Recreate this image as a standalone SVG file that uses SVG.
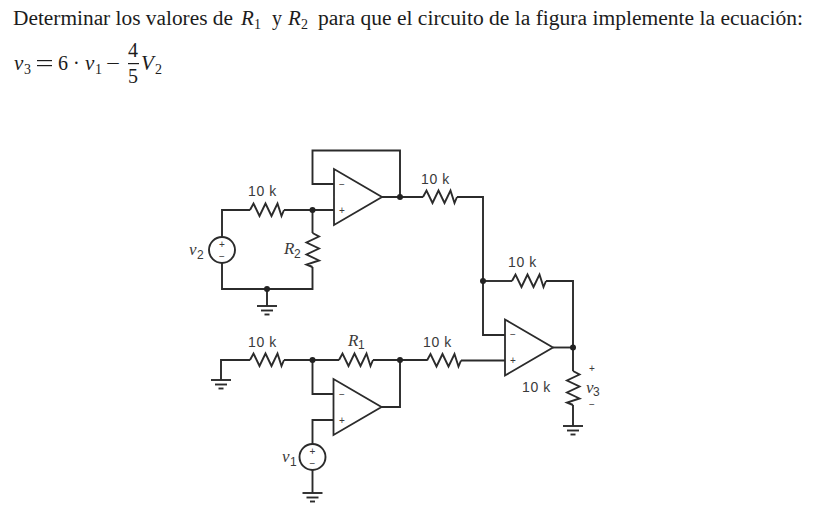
<svg xmlns="http://www.w3.org/2000/svg" xmlns:xlink="http://www.w3.org/1999/xlink" width="819" height="519" viewBox="0 0 819 519">
<style>
.w{fill:none;stroke:#2b2b2b;stroke-width:1.9;stroke-linejoin:miter}
.oa{fill:#fff;stroke:#2b2b2b;stroke-width:1.8}
.dot{fill:#222}
.t{font-family:"Liberation Serif",serif;font-size:20px;fill:#1c1c1c}
.m{font-family:"Liberation Serif",serif;font-size:21px;fill:#1c1c1c;font-style:italic}
.s{font-family:"Liberation Serif",serif;font-size:14px;fill:#1c1c1c}
.l{font-family:"Liberation Sans",sans-serif;font-size:14px;fill:#3a3a3a;letter-spacing:.6px}
.v{font-family:"Liberation Serif",serif;font-size:17px;font-style:italic;fill:#3a3a3a}
.vs{font-family:"Liberation Sans",sans-serif;font-size:12px;fill:#3a3a3a}
.p{font-family:"Liberation Sans",sans-serif;font-size:10px;fill:#3a3a3a;text-anchor:middle}
</style>
<defs>
<path id="res" class="w" d="M0 0L3.5-6.5 9.5 6 15.5-6.5 21.5 6 27.500-6.5 31.5 6 34 0"/>
<g id="gnd"><path class="w" d="M-10 0H10"/><path class="w" d="M-6 4.500H6" stroke-width="1.4"/><path class="w" d="M-2.500 8.500H2.500"/></g>
<path id="oamp" class="oa" d="M0 0V56L48 28Z"/>
</defs>
<rect width="819" height="519" fill="#fff"/>

<g id="statement">
<text class="t" x="13" y="25" textLength="220" lengthAdjust="spacingAndGlyphs">Determinar los valores de</text>
<text class="m" x="241" y="25">R</text><text class="s" x="254" y="29">1</text>
<text class="t" x="272" y="25">y</text>
<text class="m" x="288" y="25">R</text><text class="s" x="301" y="29">2</text>
<text class="t" x="318" y="25" textLength="485" lengthAdjust="spacingAndGlyphs">para que el circuito de la figura implemente la ecuación:</text>
</g>
<g id="equation">
<text class="m" x="14" y="70">v</text><text class="s" x="24" y="74">3</text>
<rect x="37" y="60" width="15" height="1.200" fill="#1c1c1c"/><rect x="37" y="65" width="15" height="1.200" fill="#1c1c1c"/>
<text class="t" x="58" y="70">6</text>
<text class="t" x="73" y="70">·</text>
<text class="m" x="85" y="70">v</text><text class="s" x="95" y="74">1</text>
<text class="t" x="106" y="70" textLength="14" lengthAdjust="spacingAndGlyphs">−</text>
<text class="t" x="128" y="57">4</text>
<rect x="128" y="63" width="11" height="1.200" fill="#1c1c1c"/>
<text class="t" x="128" y="83">5</text>
<text class="m" x="141" y="70">V</text><text class="s" x="155" y="74">2</text>
</g>

<g id="connectors">
<path class="w" d="M334 184H312.500V150.500H400V197"/>
<path class="w" d="M382 197H423"/>
<path class="w" d="M457 197H483V335H505"/>
<path class="w" d="M334 210H284"/>
<path class="w" d="M250 210H222V237"/>
<path class="w" d="M222 263V289H312.500V267"/>
<path class="w" d="M312.500 233V210"/>
<path class="w" d="M267 289V306"/>
<path class="w" d="M483 281H512"/>
<path class="w" d="M546 281H573V371"/>
<path class="w" d="M553 347.500H573"/>
<path class="w" d="M573 405V426"/>
<path class="w" d="M221 380V360H250"/>
<path class="w" d="M284 360H339"/>
<path class="w" d="M373 360H427"/>
<path class="w" d="M461 360.500H505"/>
<path class="w" d="M312.500 360V394H334"/>
<path class="w" d="M400 360V407H381"/>
<path class="w" d="M334 420H312.500V444"/>
<path class="w" d="M312.500 470V493"/>
</g>

<g id="opamp-top"><use xlink:href="#oamp" x="334" y="169"/><text class="p" x="342" y="188">−</text><text class="p" x="342" y="214">+</text></g>
<g id="opamp-right"><use xlink:href="#oamp" x="505" y="319.500"/><text class="p" x="513" y="338">−</text><text class="p" x="513" y="364">+</text></g>
<g id="opamp-bottom"><use xlink:href="#oamp" x="333.500" y="379"/><text class="p" x="342" y="398">−</text><text class="p" x="342" y="424">+</text></g>

<g id="r-top-in"><use xlink:href="#res" x="250" y="210"/><text class="l" x="248" y="196">10 k</text></g>
<g id="r-top-out"><use xlink:href="#res" x="423" y="197"/><text class="l" x="421" y="184">10 k</text></g>
<g id="r-feedback"><use xlink:href="#res" x="512" y="281"/><text class="l" x="508" y="267">10 k</text></g>
<g id="r-bottom-in"><use xlink:href="#res" x="250" y="360"/><text class="l" x="248" y="347">10 k</text></g>
<g id="r1"><use xlink:href="#res" x="339" y="360"/><text class="v" x="348" y="346">R</text><text class="vs" x="358" y="349">1</text></g>
<g id="r-right-in"><use xlink:href="#res" x="427" y="360.500"/><text class="l" x="423" y="347">10 k</text></g>
<g id="r2"><use xlink:href="#res" transform="translate(312.500 233) rotate(90)"/><text class="v" x="284" y="254">R</text><text class="vs" x="294" y="258">2</text></g>
<g id="r-load"><use xlink:href="#res" transform="translate(573 371) rotate(90)"/><text class="l" x="522" y="392">10 k</text></g>

<g id="source-v2"><circle class="w" cx="222" cy="250" r="13"/><text class="p" x="222" y="248">+</text><text class="p" x="222" y="260">−</text><text class="v" x="189" y="255">v</text><text class="vs" x="197" y="259">2</text></g>
<g id="source-v1"><circle class="w" cx="312.500" cy="457" r="13"/><text class="p" x="312.500" y="455">+</text><text class="p" x="312.500" y="467">−</text><text class="v" x="282" y="462">v</text><text class="vs" x="290" y="466">1</text></g>

<g id="ground-1"><use xlink:href="#gnd" x="267" y="306"/></g>
<g id="ground-2"><use xlink:href="#gnd" x="221" y="380"/></g>
<g id="ground-3"><use xlink:href="#gnd" x="312.500" y="493"/></g>
<g id="ground-4"><use xlink:href="#gnd" x="573" y="426"/></g>

<g id="v3-label"><text class="p" x="592" y="372">+</text><text class="v" x="586" y="393">v</text><text class="vs" x="593" y="396">3</text><text class="p" x="592" y="408">−</text></g>

<g id="junctions">
<circle class="dot" cx="312.500" cy="210" r="3"/>
<circle class="dot" cx="400" cy="197" r="3"/>
<circle class="dot" cx="267" cy="289" r="3"/>
<circle class="dot" cx="483" cy="281" r="3"/>
<circle class="dot" cx="573" cy="347.500" r="3"/>
<circle class="dot" cx="312.500" cy="360" r="3"/>
<circle class="dot" cx="400" cy="360" r="3"/>
</g>
</svg>
